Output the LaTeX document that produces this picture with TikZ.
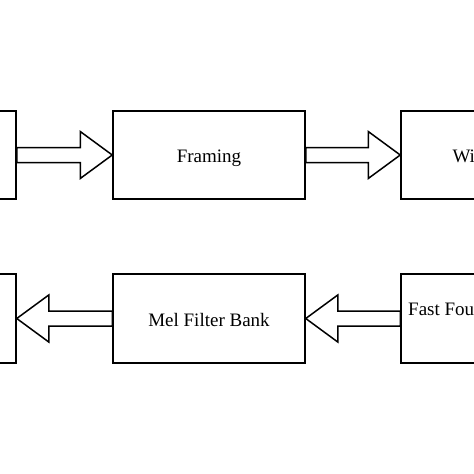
\documentclass[tikz,border=0pt]{standalone}
\usepackage{fontspec}
\setmainfont{Liberation Serif}
\usetikzlibrary{calc}
\begin{document}
\begin{tikzpicture}[x=1pt,y=-1pt,
  box/.style={draw, line width=1.5pt, minimum width=192pt, minimum height=88pt,
    inner sep=0pt, text height=15pt, text depth=0pt,
    font=\fontsize{19}{22}\selectfont},
  lbl/.style={inner sep=0pt, font=\fontsize{19}{22}\selectfont},
  fatarrow/.style={draw, line width=1.5pt, fill=white, line join=miter,
    to path={let \p1=(\tikztostart), \p2=(\tikztotarget),
      \p3=($(\tikztotarget)!32pt!(\tikztostart)$) in
      (\x1,\y1+7.5pt) -- (\x3,\y1+7.5pt) -- (\x3,\y1+23.5pt) -- (\x2,\y2)
      -- (\x3,\y1-23.5pt) -- (\x3,\y1-7.5pt) -- (\x1,\y1-7.5pt) -- cycle}}]
\useasboundingbox (0,0) rectangle (474,474);
\clip (0,0) rectangle (474,474);
\fill[white] (0,0) rectangle (474,474);
% top row
\node[box] (pre) at (-80,155) {};
\node[box] (framing) at (209,155) {Framing};
\node[box] (windowing) at (497,155) {Windowing};
% bottom row
\node[box, minimum height=89pt] (dct) at (-80,318.5) {};
\node[box, minimum height=89pt] (mel) at (209,318.5) {Mel Filter Bank};
\node[box, minimum height=89pt, minimum width=212pt] (fft) at (507,318.5) {};
\node[lbl, anchor=base west] (fftlabel) at (408,315) {Fast Fourier Transform};
% arrows
\draw[fatarrow] (pre.east) to (framing.west);
\draw[fatarrow] (framing.east) to (windowing.west);
\draw[fatarrow] (fft.west) to (mel.east);
\draw[fatarrow] (mel.west) to (dct.east);
\end{tikzpicture}
\end{document}
